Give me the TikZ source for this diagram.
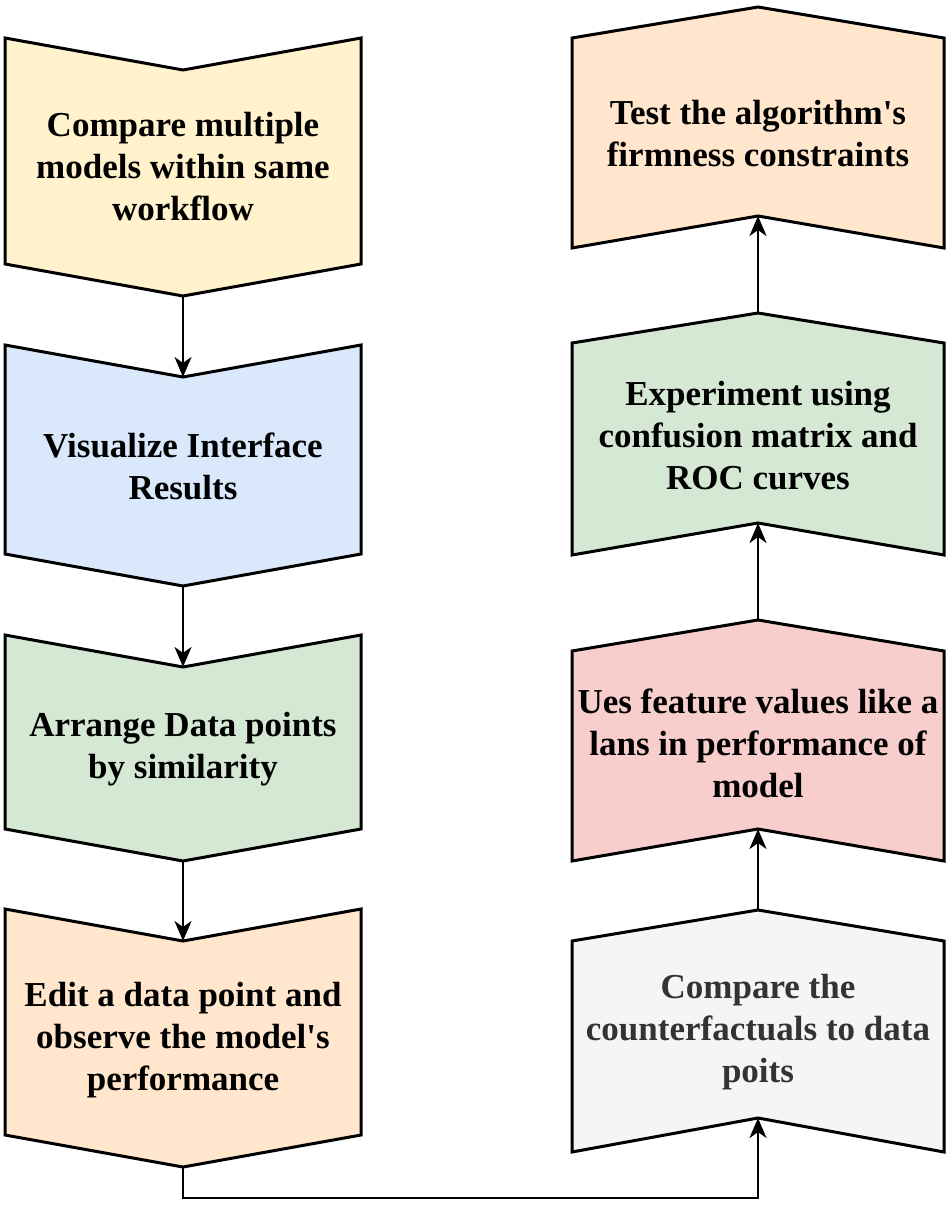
\documentclass[tikz,border=0pt]{standalone}
\usepackage{fontspec}
\setmainfont{Liberation Serif}[Ligatures=TeXOff]
\usetikzlibrary{arrows.meta}
\definecolor{cyellow}{HTML}{FFF2CC}
\definecolor{cblue}{HTML}{DAE8FC}
\definecolor{cgreen}{HTML}{D5E8D4}
\definecolor{corange}{HTML}{FFE6CC}
\definecolor{cred}{HTML}{F8CECC}
\definecolor{cgray}{HTML}{F5F5F5}
\definecolor{cgraytext}{HTML}{333333}
\begin{document}
\begin{tikzpicture}[x=1pt,y=-1pt,
  shp/.style={draw=black,line width=3pt,line join=miter},
  lbl/.style={align=center,font=\fontsize{35}{42}\selectfont\bfseries,inner sep=0pt},
  conn/.style={draw=black,line width=2.6pt,-{Stealth[length=20pt,width=17pt,inset=6pt]}}]
\useasboundingbox (0,0) rectangle (950,1206);

% ---------- left column (down chevrons) ----------
\draw[shp,fill=cyellow] (5,38) -- (183,70) -- (361,38) -- (361,264) -- (183,296) -- (5,264) -- cycle;
\coordinate (yin) at (183,70); \coordinate (yout) at (183,296);
\node[lbl] (ytxt) at (183,167) {Compare multiple\\models within same\\workflow};

\draw[shp,fill=cblue] (5,345) -- (183,377) -- (361,345) -- (361,554) -- (183,586) -- (5,554) -- cycle;
\coordinate (bin) at (183,377); \coordinate (bout) at (183,586);
\node[lbl] (btxt) at (183,466) {Visualize Interface\\Results};

\draw[shp,fill=cgreen] (5,635) -- (183,667) -- (361,635) -- (361,829) -- (183,861) -- (5,829) -- cycle;
\coordinate (gin) at (183,667); \coordinate (gout) at (183,861);
\node[lbl] (gtxt) at (183,749) {Arrange Data points\\by similarity};

\draw[shp,fill=corange] (5,909) -- (183,941) -- (361,909) -- (361,1135) -- (183,1167) -- (5,1135) -- cycle;
\coordinate (oin) at (183,941); \coordinate (oout) at (183,1167);
\node[lbl] (otxt) at (183,1040) {Edit a data point and\\observe the model's\\performance};

% ---------- right column (up chevrons) ----------
\draw[shp,fill=corange] (572,38) -- (758,7) -- (944,38) -- (944,248) -- (758,216) -- (572,248) -- cycle;
\coordinate (tin) at (758,216);
\node[lbl] (ttxt) at (758,134) {Test the algorithm's\\firmness constraints};

\draw[shp,fill=cgreen] (572,343) -- (758,313) -- (944,343) -- (944,555) -- (758,523) -- (572,555) -- cycle;
\coordinate (ein) at (758,523); \coordinate (eout) at (758,313);
\node[lbl] (etxt) at (758,436) {Experiment using\\confusion matrix and\\ROC curves};

\draw[shp,fill=cred] (572,651) -- (758,620) -- (944,651) -- (944,861) -- (758,829) -- (572,861) -- cycle;
\coordinate (rin) at (758,829); \coordinate (rout) at (758,620);
\node[lbl] (rtxt) at (758,743) {Ues feature values like a\\lans in performance of\\model};

\draw[shp,fill=cgray] (572,941) -- (758,910) -- (944,941) -- (944,1152) -- (758,1118) -- (572,1152) -- cycle;
\coordinate (cin) at (758,1118); \coordinate (cout) at (758,910);
\node[lbl,text=cgraytext] (ctxt) at (758,1032) {Compare the\\counterfactuals to data\\poits};

% ---------- connectors ----------
\draw[conn] (yout) -- (bin);
\draw[conn] (bout) -- (gin);
\draw[conn] (gout) -- (oin);
\coordinate (low) at (183,1198);
\draw[conn] (oout) -- (low) -| (cin);
\draw[conn] (cout) -- (rin);
\draw[conn] (rout) -- (ein);
\draw[conn] (eout) -- (tin);
\end{tikzpicture}
\end{document}
